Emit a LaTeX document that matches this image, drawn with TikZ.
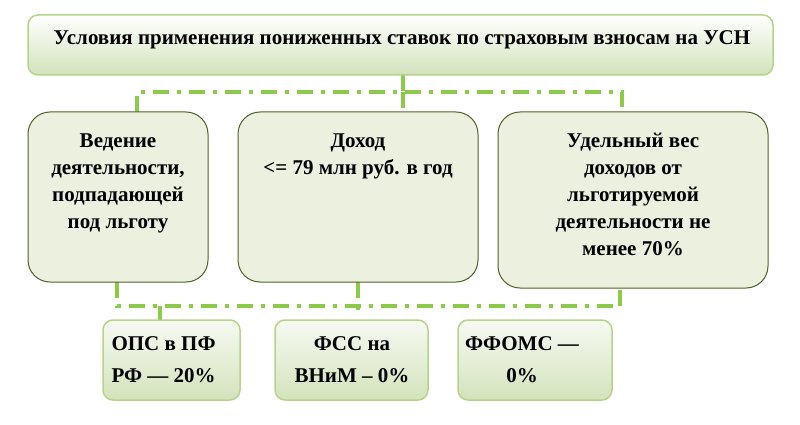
\documentclass[tikz,border=0pt]{standalone}
\usepackage{fontspec}
\setmainfont{Liberation Serif}
\definecolor{lg}{HTML}{8CCB4A}
\definecolor{bd}{HTML}{4F6228}
\definecolor{bl}{HTML}{B5D38A}
\definecolor{fl}{HTML}{EBF1DE}
\definecolor{fd}{HTML}{D3E3BC}
\tikzset{
 topbox/.style={draw=bl,line width=1.5pt,rounded corners=10pt,top color=white,bottom color=fd},
 midbox/.style={draw=bd,line width=1pt,rounded corners=22pt,fill=fl},
 botbox/.style={draw=bl,line width=1.5pt,rounded corners=10pt,top color=white!60!fl,bottom color=fd},
 conn/.style={draw=lg,line width=4pt,dash pattern=on 16pt off 8pt on 4pt off 8pt},
 txt/.style={font=\bfseries\fontsize{21}{27}\selectfont,align=center},
 btxt/.style={font=\bfseries\fontsize{21}{32}\selectfont,align=center}
}
\begin{document}
\begin{tikzpicture}[x=1pt,y=-1pt]
\useasboundingbox (0,0) rectangle (800,425);
% connectors
\coordinate (t1) at (403,75); \coordinate (t2) at (403,92);
\draw[conn] (t1) -- (t2);
\draw[conn] (137,112) -- (137,92) -- (622,92) -- (622,112);
\draw[conn] (t2) -- (403,112);
\draw[conn] (117,282) -- (117,306) -- (620,306);
\draw[conn] (160,320) -- (160,306);
\draw[conn] (358,282) -- (358,316);
\draw[conn] (620,306) -- (620,288);
% boxes
\path[topbox] (28,15) rectangle (773,75);
\node[txt] (top) at (402,40) {Условия применения пониженных ставок по страховым взносам на УСН};
\path[midbox] (28,112) rectangle (208,282);
\path[midbox] (238,112) rectangle (478,282);
\path[midbox] (498,112) rectangle (768,288);
\node[txt,anchor=north] (m1) at (118,130) {Ведение\\деятельности,\\подпадающей\\под льготу};
\node[txt,anchor=north] (m2) at (358,130) {Доход\\<= 79 млн руб. в год};
\node[txt,anchor=north] (m3) at (633,130) {Удельный вес\\доходов от\\льготируемой\\деятельности не\\менее 70\%};
\path[botbox] (103,320) rectangle (240,400);
\path[botbox] (275,320) rectangle (428,400);
\path[botbox] (458,320) rectangle (612,400);
\node[btxt,anchor=north west,align=left] (b1) at (108,333) {ОПС в ПФ\\РФ — 20\%};
\node[btxt,anchor=north] (b2) at (352,333) {ФСС на\\ВНиМ – 0\%};
\node[btxt,anchor=north] (b3) at (522,333) {ФФОМС —\\0\%};
\end{tikzpicture}
\end{document}
